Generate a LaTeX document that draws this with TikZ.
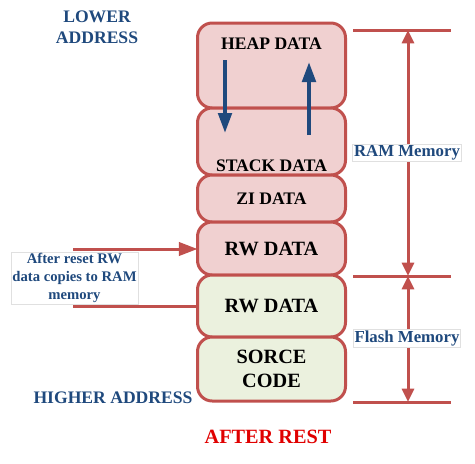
\documentclass[tikz,border=0pt]{standalone}
\usepackage{fontspec}
\setmainfont{Liberation Serif}
\usetikzlibrary{positioning,arrows.meta}
\definecolor{memred}{HTML}{C0504D}
\definecolor{rampink}{HTML}{F0D0D0}
\definecolor{flashgreen}{HTML}{EBF1DE}
\definecolor{addrblue}{HTML}{1F497D}
\definecolor{hardred}{HTML}{E00000}
\begin{document}
\begin{tikzpicture}[x=0.75pt,y=-0.75pt]
\tikzstyle{membox} = [rectangle, rounded corners=11pt, minimum width=111pt, draw=memred, line width=2.25pt, outer sep=0pt, inner sep=0pt]
\tikzstyle{ramseg} = [membox, fill=rampink]
\tikzstyle{flashseg} = [membox, fill=flashgreen]
\tikzstyle{segtext} = [font=\bfseries\fontsize{13.2}{15}\selectfont, align=center]
\tikzstyle{bigtext} = [font=\bfseries\fontsize{15.2}{18}\selectfont, align=center]
\tikzstyle{addrtext} = [font=\bfseries\fontsize{13.2}{15.5}\selectfont, text=addrblue, align=center]
\tikzstyle{memtag} = [font=\bfseries\fontsize{12.6}{15}\selectfont, text=addrblue, fill=white, draw=black!12, line width=0.6pt, inner sep=1pt]
\tikzstyle{dimline} = [draw=memred, line width=2.25pt]
\tikzstyle{dimarrow} = [draw=memred, line width=2.25pt, {Triangle[width=9pt,length=10pt]}-{Triangle[width=9pt,length=10pt]}]
\tikzstyle{growarrow} = [draw=addrblue, line width=3pt, -{Triangle[width=10pt,length=15pt]}]
\useasboundingbox (0,0) rectangle (475,464);
% memory segments
\node (heap) [ramseg, minimum height=63.75pt] at (271.5,65.5) {};
\node (stack)[ramseg, minimum height=50.25pt, below=0pt of heap] {};
\node (zi)   [ramseg, minimum height=35.25pt, below=0pt of stack] {};
\node (rwram)[ramseg, minimum height=39.75pt, below=0pt of zi] {};
\node (rwflash)[flashseg, minimum height=46.5pt, below=0pt of rwram] {};
\node (src)  [flashseg, minimum height=48pt, below=0pt of rwflash] {};
\node (heaptxt) [segtext, below=8pt of heap.north] {HEAP DATA};
\node (stacktxt)[segtext] at (271.5,165.5) {STACK DATA};
\node (zitxt)   [segtext] at (zi) {ZI DATA};
\node (rwramtxt)[bigtext] at (rwram) {RW DATA};
\node (rwflashtxt)[bigtext] at (rwflash) {RW DATA};
\node (srctxt)  [bigtext] at (src) {SORCE\\CODE};
% heap and stack growth
\coordinate (hs1) at (225,60);
\coordinate (hs2) at (225,133);
\coordinate (sh1) at (309,135);
\coordinate (sh2) at (309,62);
\draw [growarrow] (hs1) -- (hs2);
\draw [growarrow] (sh1) -- (sh2);
% addresses
\node (lower) [addrtext] at (97,27) {LOWER\\ADDRESS};
\node (higher)[addrtext] at (113,398) {HIGHER ADDRESS};
\node (after) [bigtext, text=hardred] at (268,437) {AFTER REST};
% dimension lines
\coordinate (ramtopL) at (353,30);
\coordinate (ramtopR) at (451,30);
\coordinate (midL) at (353,276);
\coordinate (midR) at (451,276);
\coordinate (botL) at (353,402);
\coordinate (botR) at (451,402);
\coordinate (ramtop) at (408,30);
\coordinate (mid) at (408,276);
\coordinate (bot) at (408,402);
\draw [dimline] (ramtopL) -- (ramtopR);
\draw [dimline] (midL) -- (midR);
\draw [dimline] (botL) -- (botR);
\draw [dimarrow] (ramtop) -- (mid);
\draw [dimarrow] (mid) -- (bot);
\node (ramtag)  [memtag] at (407,153) {RAM Memory};
\node (flashtag)[memtag] at (407,338) {Flash Memory};
% copy at reset
\node (note) [font=\bfseries\fontsize{11}{13.3}\selectfont, text=addrblue, align=center, draw=black!12, line width=0.6pt, fill=white, minimum width=94pt, minimum height=39pt, inner sep=1pt] at (74.5,278) {After reset RW\\data copies to RAM\\memory};
\coordinate (cpin) at (73,249);
\coordinate (cpout) at (73,306);
\draw [memred, line width=2.25pt, -{Triangle[width=10pt,length=14pt]}] (cpin) -- (cpin -| rwram.west);
\draw [memred, line width=2.25pt] (cpout) -- (cpout -| rwflash.west);
\end{tikzpicture}
\end{document}
